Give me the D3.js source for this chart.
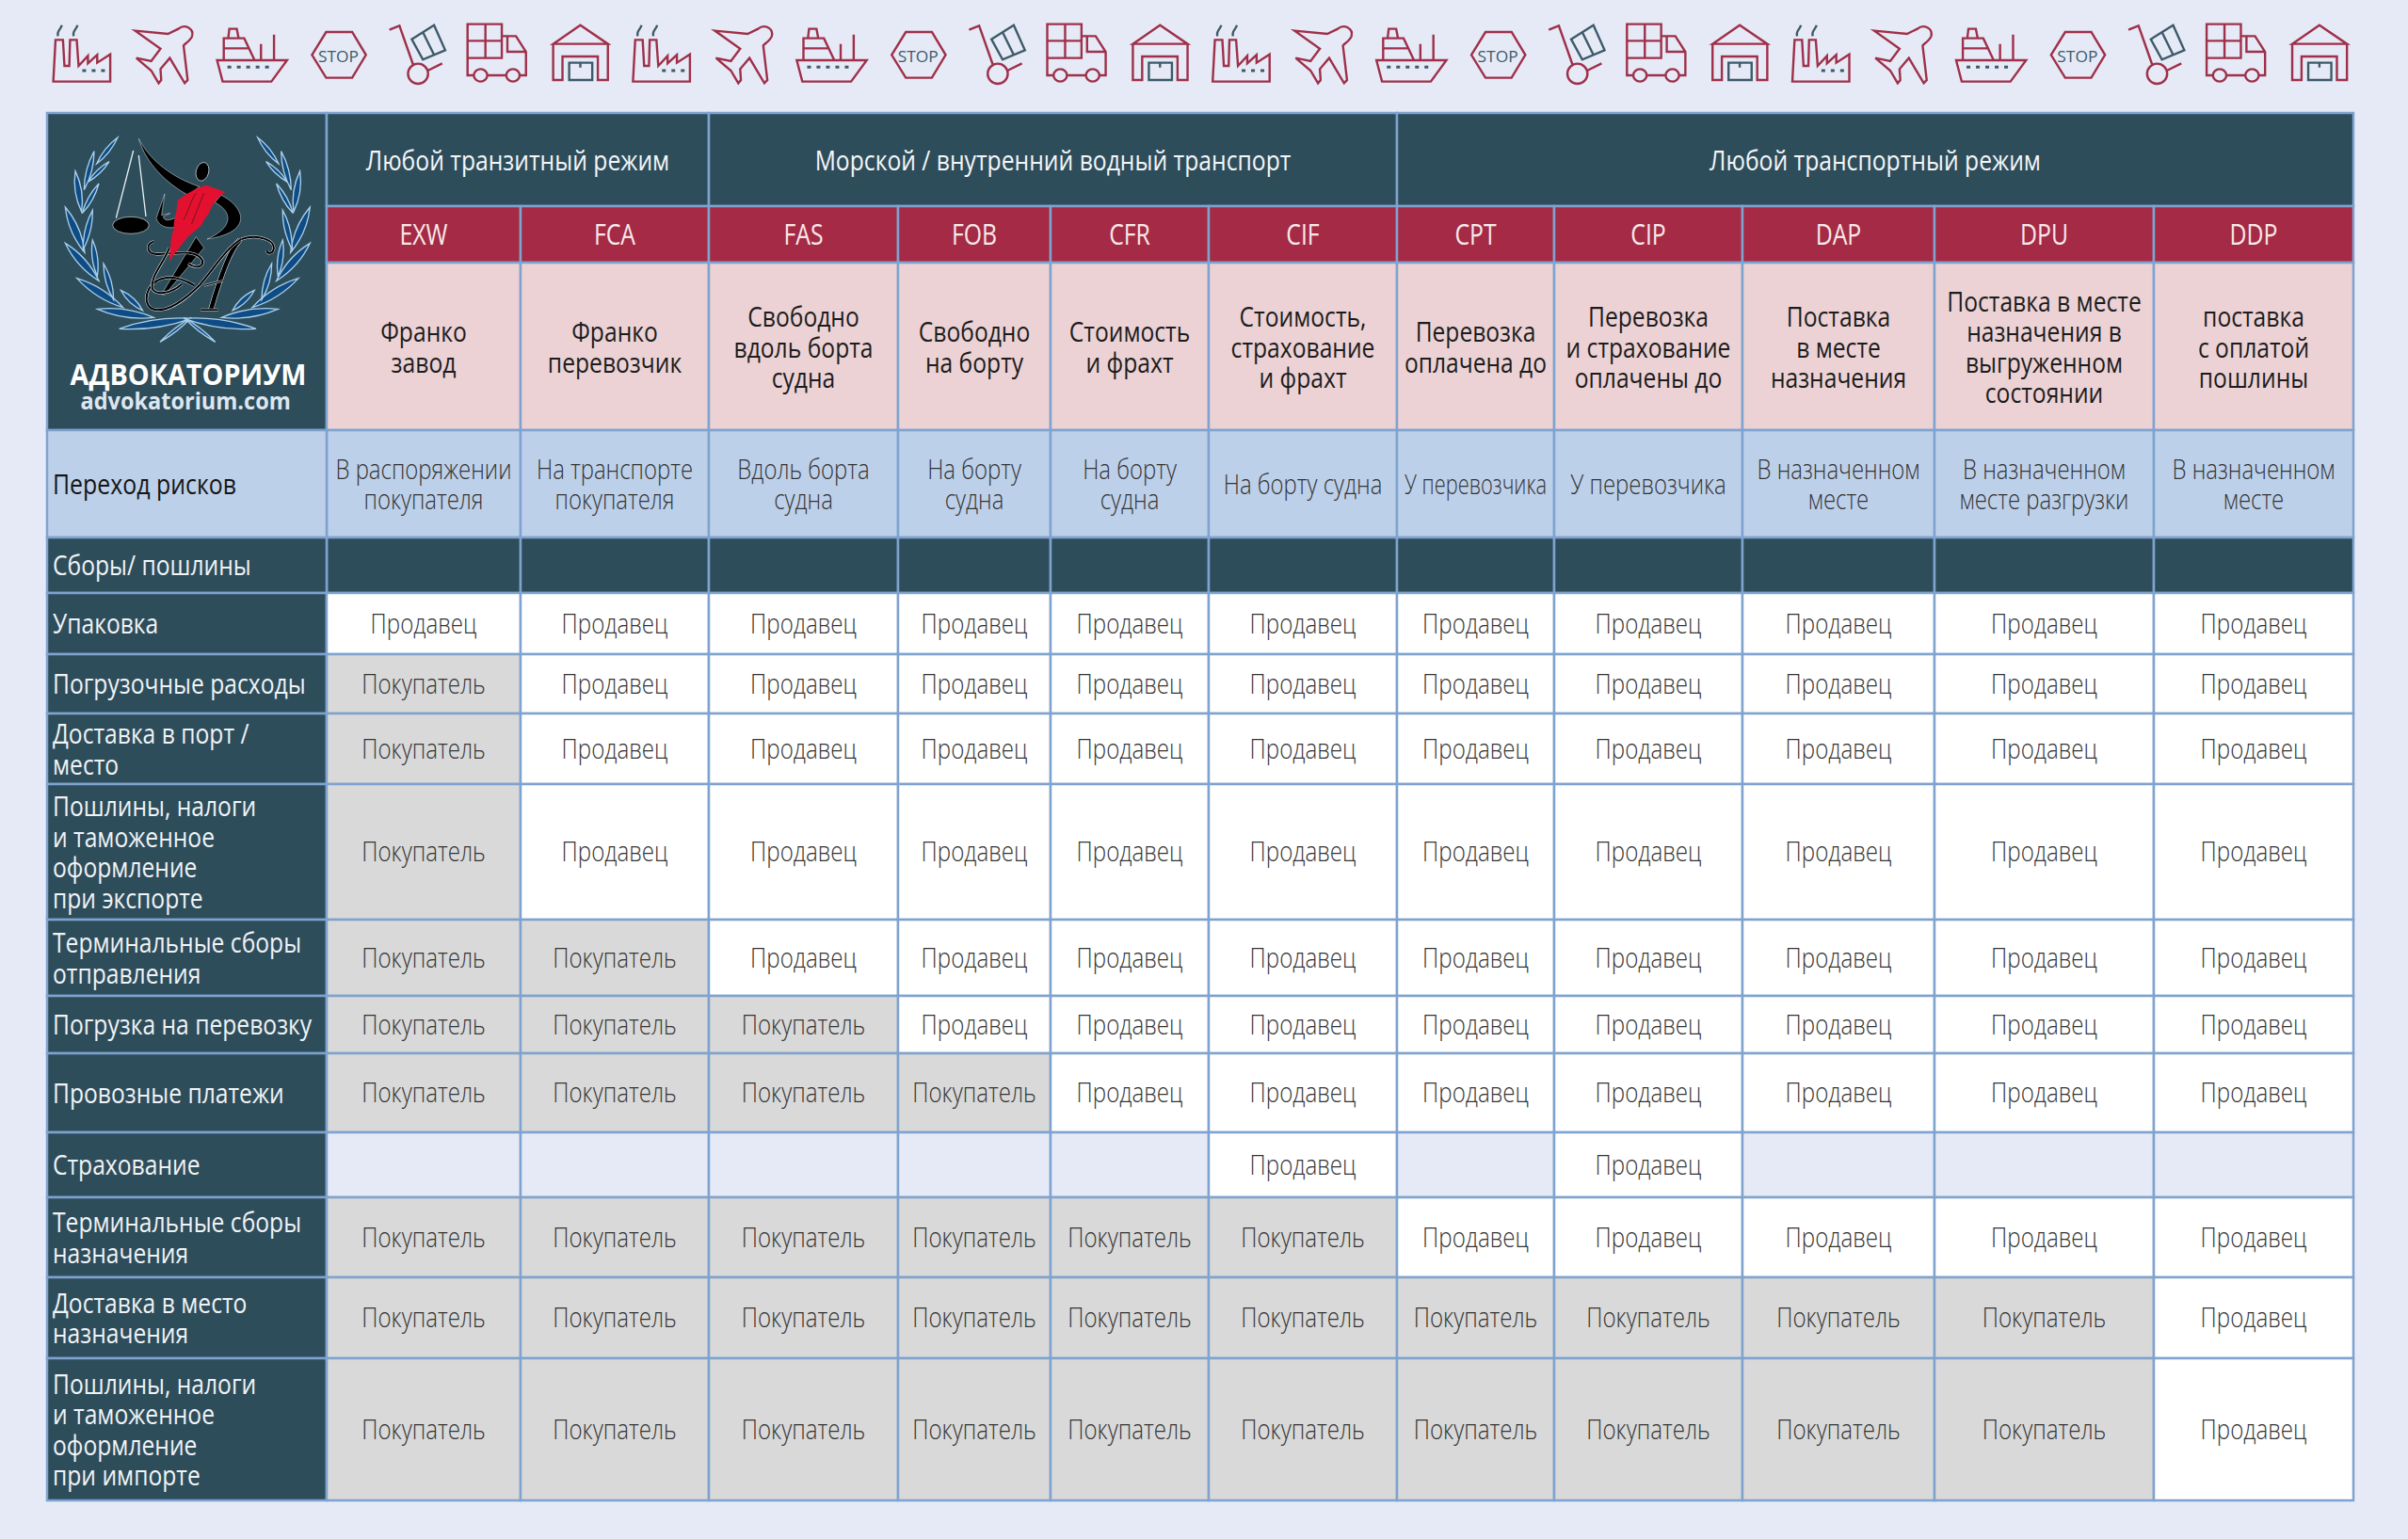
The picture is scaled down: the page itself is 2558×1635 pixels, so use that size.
<!DOCTYPE html>
<html>
<head>
<meta charset="utf-8">
<script src="https://cdn.jsdelivr.net/npm/d3@7/dist/d3.min.js"></script>
<style>
  html, body { margin: 0; padding: 0; background: #e6eaf7; }
  svg { display: block; }
  text { font-family: "Open Sans", "Noto Sans", sans-serif; }
</style>
</head>
<body>
<div id="chart"></div>
<script>
const P = "Покупатель";
const S = "Продавец";

const regimes = ["Любой транзитный режим", "Морской / внутренний водный транспорт", "Любой транспортный режим"];
const regimeStart = [0, 2, 6];
const regimeEnd = [2, 6, 11];

const terms = ["EXW", "FCA", "FAS", "FOB", "CFR", "CIF", "CPT", "CIP", "DAP", "DPU", "DDP"];

const termNames = [
    ["Франко", "завод"],
    ["Франко", "перевозчик"],
    ["Свободно", "вдоль борта", "судна"],
    ["Свободно", "на борту"],
    ["Стоимость", "и фрахт"],
    ["Стоимость,", "страхование", "и фрахт"],
    ["Перевозка", "оплачена до"],
    ["Перевозка", "и страхование", "оплачены до"],
    ["Поставка", "в месте", "назначения"],
    ["Поставка в месте", "назначения в", "выгруженном", "состоянии"],
    ["поставка", "с оплатой", "пошлины"]
];

const riskTransfer = [
    ["В распоряжении", "покупателя"],
    ["На транспорте", "покупателя"],
    ["Вдоль борта", "судна"],
    ["На борту", "судна"],
    ["На борту", "судна"],
    ["На борту судна"],
    ["У перевозчика"],
    ["У перевозчика"],
    ["В назначенном", "месте"],
    ["В назначенном", "месте разгрузки"],
    ["В назначенном", "месте"]
];

const costLabels = [
    ["Упаковка"],
    ["Погрузочные расходы"],
    ["Доставка в порт /", "место"],
    ["Пошлины, налоги", "и таможенное", "оформление", "при экспорте"],
    ["Терминальные сборы", "отправления"],
    ["Погрузка на перевозку"],
    ["Провозные платежи"],
    ["Страхование"],
    ["Терминальные сборы", "назначения"],
    ["Доставка в место", "назначения"],
    ["Пошлины, налоги", "и таможенное", "оформление", "при импорте"]
];

const costCells = [
    [S, S, S, S, S, S, S, S, S, S, S],
    [P, S, S, S, S, S, S, S, S, S, S],
    [P, S, S, S, S, S, S, S, S, S, S],
    [P, S, S, S, S, S, S, S, S, S, S],
    [P, P, S, S, S, S, S, S, S, S, S],
    [P, P, P, S, S, S, S, S, S, S, S],
    [P, P, P, P, S, S, S, S, S, S, S],
    ["", "", "", "", "", S, "", S, "", "", ""],
    [P, P, P, P, P, P, S, S, S, S, S],
    [P, P, P, P, P, P, P, P, P, P, S],
    [P, P, P, P, P, P, P, P, P, P, S]
];

// layout
const width = 2558;
const height = 1635;
const tableLeft = 50;
const colEdges = [347, 553, 753, 954, 1116, 1284, 1484, 1651, 1851, 2055, 2288, 2500];
const headEdges = [120, 219, 279, 457, 571, 630];
const rowEdges = [630, 695, 758, 833, 977, 1058, 1119, 1203, 1272, 1357, 1443, 1594];

const BG = "#e6eaf7";
const DARK = "#2e4d5b";
const RED = "#a52a45";
const PINK = "#ecd2d5";
const BLUE = "#bdd0ea";
const GREY = "#d9d9d9";
const LINE = "#7fa3cf";
const INK = "#2b2b2b";

const x = d3.scaleOrdinal().domain(d3.range(12)).range(colEdges);
const y = d3.scaleOrdinal().domain(d3.range(12)).range(rowEdges);

const svg = d3.select("#chart").append("svg")
    .attr("width", width)
    .attr("height", height)
    .attr("viewBox", "0 0 " + width + " " + height);

svg.append("rect").attr("width", width).attr("height", height).attr("fill", BG);

function cell(x0, y0, x1, y1, fill) {
    svg.append("rect")
        .attr("x", x0).attr("y", y0)
        .attr("width", x1 - x0).attr("height", y1 - y0)
        .attr("fill", fill)
        .attr("stroke", LINE)
        .attr("stroke-width", 2.5);
}

// the original type is a narrow one, so every block is squeezed horizontally
function label(lines, px, cy, opts) {
    const size = opts.size || 28;
    const lh = opts.lh || 32.5;
    const squeeze = opts.squeeze || 0.85;
    const t = svg.append("text")
        .attr("text-anchor", opts.anchor || "middle")
        .attr("font-size", size)
        .attr("font-weight", opts.weight || 300)
        .attr("fill", opts.fill || INK);
    let widest = 0;
    lines.forEach(function (line, i) {
        const s = t.append("tspan")
            .attr("x", 0)
            .attr("y", (i - (lines.length - 1) / 2) * lh + size * 0.35)
            .text(line);
        widest = Math.max(widest, s.node().getComputedTextLength());
    });
    let k = squeeze;
    if (opts.maxWidth) {
        k = Math.min(k, opts.maxWidth / widest);
    }
    t.attr("transform", "translate(" + px + "," + cy + ") scale(" + k + ",1)");
}

// header block
cell(tableLeft, headEdges[0], x(0), headEdges[3], DARK);

regimes.forEach(function (d, i) {
    const x0 = x(regimeStart[i]);
    const x1 = x(regimeEnd[i]);
    cell(x0, headEdges[0], x1, headEdges[1], DARK);
    label([d], (x0 + x1) / 2, (headEdges[0] + headEdges[1]) / 2 + 1, { size: 29, fill: "#f4f6f8", weight: 400, squeeze: 0.852 });
});

terms.forEach(function (d, i) {
    const x0 = x(i);
    const x1 = x(i + 1);
    const cx = (x0 + x1) / 2;
    cell(x0, headEdges[1], x1, headEdges[2], RED);
    label([d], cx, (headEdges[1] + headEdges[2]) / 2, { size: 31, fill: "#f7e9ea", weight: 400, squeeze: 0.8 });

    cell(x0, headEdges[2], x1, headEdges[3], PINK);
    label(termNames[i], cx, (headEdges[2] + headEdges[3]) / 2 + 1.5, { size: 29, weight: 400, fill: "#1c1c1c", squeeze: 0.85, maxWidth: x1 - x0 - 16 });

    cell(x0, headEdges[3], x1, headEdges[4], BLUE);
    label(riskTransfer[i], cx, (headEdges[3] + headEdges[4]) / 2 + 1, { size: 28.5, fill: "#333", squeeze: 0.84, maxWidth: x1 - x0 - 16 });

    cell(x0, headEdges[4], x1, headEdges[5], DARK);
});

cell(tableLeft, headEdges[3], x(0), headEdges[4], BLUE);
label(["Переход рисков"], 56, (headEdges[3] + headEdges[4]) / 2 + 1, { anchor: "start", size: 28.5, weight: 400, fill: "#151515", squeeze: 0.873 });

cell(tableLeft, headEdges[4], x(0), headEdges[5], DARK);
label(["Сборы/ пошлины"], 56, (headEdges[4] + headEdges[5]) / 2 + 1, { anchor: "start", size: 28.5, weight: 400, fill: "#f0f3f5", squeeze: 0.865 });

// cost rows
costLabels.forEach(function (lines, r) {
    const y0 = y(r);
    const y1 = y(r + 1);
    const cy = (y0 + y1) / 2;
    cell(tableLeft, y0, x(0), y1, DARK);
    label(lines, 56, cy + 1, { anchor: "start", size: 28.5, weight: 400, fill: "#f0f3f5", squeeze: 0.865 });

    costCells[r].forEach(function (v, c) {
        const fill = v === P ? GREY : (v === S ? "#ffffff" : BG);
        cell(x(c), y0, x(c + 1), y1, fill);
        if (v) {
            label([v], (x(c) + x(c + 1)) / 2, cy + 0.5, { size: 28.5, fill: "#333", squeeze: 0.845 });
        }
    });
});

// row of pictograms, repeats four times
const iconRed = "#9e3049";
const iconSlate = "#3d5a68";
const iconPeriod = 615.8;
const redPaths = [
    "M42,230 L48,97 H68 L72,180 H85 L87,97 H105 L110,180 L135,148 V172 L160,145 V170 L195,143 V230 Z",
    "M262,68 L350,78 L378,62 C395,45 420,60 415,85 C410,100 395,110 392,115 L403,225 L395,235 L355,155 L330,190 L332,225 L325,235 L305,195 L265,155 L305,165 L330,125 Z",
    "M482,162 H670 L628,230 H497 Z M500,160 V92 H555 L582,160 M500,124 H570 M512,92 L515,62 H535 L540,92 M600,160 V110 M635,160 V80",
    "M737,145 L775,72 H845 L882,145 L845,218 H775 Z",
    "M945,65 L972,52 L1010,180 M1048,195 L1087,172",
    "M1155,47 H1247 V155 H1155 Z M1155,100 H1247 M1203,47 V155 M1247,85 H1285 L1312,135 V210 H1295 M1262,85 V135 H1312 M1155,155 V210 H1172 M1208,210 H1259",
    "M1385,110 L1458,50 L1532,110 Z M1385,110 V225 H1410 V150 H1505 V225 H1532 V110"
];
const slatePaths = [
    "M55,85 C50,70 62,65 65,50 M97,85 C92,70 104,65 107,50",
    "M1005,95 L1065,50 L1095,130 L1035,160 Z M1035,73 L1065,145",
    "M1428,170 H1490 V225 H1428 Z M1458,170 V185"
];
const dashPaths = ["M120,195 H188", "M510,184 H630"];
const wheels = [[1022, 205, 27, 32], [1190, 210, 18, 20], [1277, 210, 18, 20]];

d3.range(4).forEach(function (k) {
    const g = svg.append("g")
        .attr("transform", "translate(" + (40 + k * iconPeriod) + ",10) scale(0.3954,0.3333)");
    function stroke(sel, color, w) {
        sel.attr("fill", "none").attr("stroke", color).attr("stroke-width", w)
            .attr("vector-effect", "non-scaling-stroke");
    }
    redPaths.forEach(function (d) { stroke(g.append("path").attr("d", d), iconRed, 2.4); });
    slatePaths.forEach(function (d) { stroke(g.append("path").attr("d", d), iconSlate, 2.4); });
    dashPaths.forEach(function (d) {
        stroke(g.append("path").attr("d", d).attr("stroke-dasharray", "4 6"), iconSlate, 3);
    });
    wheels.forEach(function (d) {
        stroke(g.append("ellipse").attr("cx", d[0]).attr("cy", d[1]).attr("rx", d[2]).attr("ry", d[3]), iconRed, 2.4);
    });
    g.append("text")
        .attr("transform", "translate(808,167) scale(0.88,1)")
        .attr("text-anchor", "middle")
        .attr("font-size", 50)
        .attr("fill", iconSlate)
        .text("STOP");
});

// logo: drawn in a 840x720 box, then scaled down into the corner cell
const logo = svg.append("g").attr("transform", "translate(60,130) scale(0.3333)");

const leaves = [
    [430, 625, 200, 658, 24], [430, 622, 330, 700, 10], [310, 622, 130, 595, 24],
    [275, 600, 205, 535, 17], [212, 590, 65, 497, 24], [182, 565, 150, 450, 17],
    [135, 505, 28, 385, 24], [130, 490, 115, 375, 17], [90, 415, 28, 270, 24],
    [85, 405, 115, 280, 17], [80, 285, 60, 155, 20], [82, 290, 135, 195, 14],
    [88, 215, 120, 92, 16], [100, 190, 168, 125, 12], [128, 132, 195, 48, 14]
];

function leafPath(d, mirror) {
    const x0 = mirror ? 836 - d[0] : d[0];
    const x1 = mirror ? 836 - d[2] : d[2];
    const y0 = d[1];
    const y1 = d[3];
    const mx = (x0 + x1) / 2;
    const my = (y0 + y1) / 2;
    const len = Math.hypot(x1 - x0, y1 - y0);
    const nx = -(y1 - y0) / len * d[4];
    const ny = (x1 - x0) / len * d[4];
    return "M" + x0 + "," + y0 + " Q" + (mx + nx) + "," + (my + ny) + " " + x1 + "," + y1 +
        " Q" + (mx - nx) + "," + (my - ny) + " " + x0 + "," + y0 + " Z";
}

[false, true].forEach(function (mirror) {
    leaves.forEach(function (d) {
        logo.append("path")
            .attr("d", leafPath(d, mirror))
            .attr("fill", "#0f4c86")
            .attr("stroke", "#a9d0ea")
            .attr("stroke-width", 4);
    });
});

// pair of strings of the scale
["M245,90 L190,305", "M262,105 L285,300"].forEach(function (d) {
    logo.append("path").attr("d", d).attr("stroke", "#e8eef2").attr("stroke-width", 4).attr("fill", "none");
});
logo.append("ellipse").attr("cx", 237).attr("cy", 328).attr("rx", 58).attr("ry", 27)
    .attr("fill", "#000").attr("stroke", "#dfe7ec").attr("stroke-width", 2);
logo.append("ellipse").attr("cx", 465).attr("cy", 157).attr("rx", 20).attr("ry", 30)
    .attr("transform", "rotate(15 465 157)")
    .attr("fill", "#000").attr("stroke", "#dfe7ec").attr("stroke-width", 2);

const blackShapes = [
    "M262,52 C300,125 370,175 455,205 L420,232 C350,195 285,130 262,52 Z",
    "M525,232 C600,270 630,350 480,372 C555,340 570,290 505,255 Z",
    "M345,228 L318,305 C325,330 350,338 375,335 L390,300 C365,310 345,320 340,300 L362,290 L335,296 Z",
    "M445,365 L335,548 L345,550 L470,400 Z"
];
blackShapes.forEach(function (d) {
    logo.append("path").attr("d", d).attr("fill", "#000").attr("stroke", "#dfe7ec").attr("stroke-width", 1.5);
});

// monogram flourishes, white outline under a black stroke
const monogram = [
    ["M585,375 C555,400 520,500 492,598", 14],
    ["M590,372 C540,400 500,470 455,520 C420,555 370,600 320,598 C285,595 280,560 295,530 C320,490 370,480 440,520", 6],
    ["M590,372 C640,355 700,375 692,405 C688,420 672,420 670,408", 6],
    ["M470,520 L530,505", 4],
    ["M460,598 H515", 6],
    ["M310,380 C285,385 285,420 320,420 C370,420 445,400 465,440 C470,465 440,465 420,450", 6],
    ["M360,400 C335,460 300,490 305,530 C315,550 360,550 400,515", 6]
];
monogram.forEach(function (d) {
    logo.append("path").attr("d", d[0]).attr("fill", "none").attr("stroke", "#e8eef2").attr("stroke-width", d[1] + 3);
    logo.append("path").attr("d", d[0]).attr("fill", "none").attr("stroke", "#000").attr("stroke-width", d[1]);
});

logo.append("path")
    .attr("d", "M385,250 C420,222 455,205 478,200 L538,222 C515,235 495,265 485,290 C480,300 472,305 470,312 C462,335 440,345 425,360 C412,370 405,385 392,398 L358,445 C368,400 358,372 375,340 C370,310 388,280 385,250 Z")
    .attr("fill", "#e3112f");
logo.append("path")
    .attr("d", "M445,225 C425,255 420,285 405,310 M470,225 C455,260 445,290 430,325")
    .attr("fill", "none")
    .attr("stroke", "#7a1020")
    .attr("stroke-width", 3);

// both logo lines sit in one text, they are set that tight
const logoText = svg.append("text")
    .attr("transform", "translate(200,0) scale(0.96,1)")
    .attr("text-anchor", "middle")
    .attr("font-weight", 700);
logoText.append("tspan")
    .attr("x", 0).attr("y", 409)
    .attr("font-size", 30)
    .attr("fill", "#ffffff")
    .text("АДВОКАТОРИУМ");
logoText.append("tspan")
    .attr("x", -3).attr("y", 435)
    .attr("font-size", 24.5)
    .attr("fill", "#dde6f0")
    .text("advokatorium.com");
</script>
</body>
</html>
